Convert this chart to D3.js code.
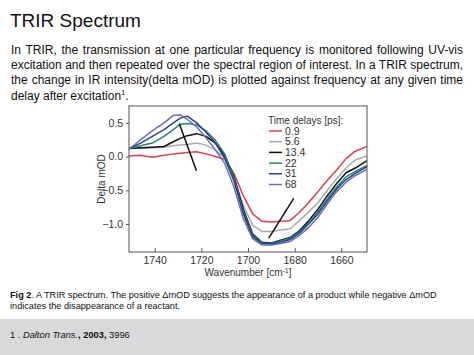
<!DOCTYPE html>
<html><head><meta charset="utf-8">
<script src="https://cdn.jsdelivr.net/npm/d3@7/dist/d3.min.js"></script>
<style>
html,body{margin:0;padding:0;background:#fff;}
svg{display:block;font-family:"Liberation Sans",Arial,sans-serif;}
</style></head>
<body>
<svg id="c" width="474" height="355"></svg>
<script>
// ---- data ----
const wavenumbers = [1751,1746,1741,1736,1732,1729,1726,1722,1718,1714,1710,1706,1702,1698,1694,1690,1686,1682,1678,1674,1670,1666,1662,1658,1654,1649];
const delays = ["0.9","5.6","13.4","22","31","68"];
const s09  = [0.01,0.02,-0.01,0.02,0.04,0.05,0.06,0.07,0.04,0.00,-0.04,-0.25,-0.58,-0.85,-0.96,-0.97,-0.96,-0.95,-0.83,-0.68,-0.52,-0.35,-0.20,-0.03,0.08,0.15];
const s56  = [0.13,0.12,0.13,0.14,0.16,0.17,0.18,0.20,0.17,0.10,-0.02,-0.32,-0.72,-1.02,-1.11,-1.11,-1.09,-1.07,-0.95,-0.82,-0.68,-0.50,-0.33,-0.17,-0.05,0.01];
const s134 = [0.12,0.13,0.14,0.15,0.22,0.27,0.31,0.34,0.30,0.20,0.02,-0.30,-0.78,-1.15,-1.27,-1.28,-1.24,-1.20,-1.10,-0.95,-0.78,-0.58,-0.40,-0.24,-0.17,-0.06];
const s22  = [0.12,0.16,0.20,0.30,0.40,0.48,0.49,0.47,0.38,0.24,0.04,-0.32,-0.82,-1.17,-1.28,-1.29,-1.25,-1.21,-1.12,-0.98,-0.82,-0.63,-0.45,-0.30,-0.22,-0.13];
const s31  = [0.12,0.20,0.30,0.40,0.50,0.57,0.60,0.50,0.36,0.20,-0.02,-0.36,-0.85,-1.19,-1.29,-1.30,-1.27,-1.23,-1.14,-1.00,-0.85,-0.66,-0.48,-0.34,-0.25,-0.15];
const s68  = [0.11,0.25,0.38,0.50,0.61,0.62,0.55,0.44,0.28,0.10,-0.10,-0.45,-0.92,-1.22,-1.31,-1.31,-1.29,-1.26,-1.17,-1.05,-0.90,-0.70,-0.52,-0.38,-0.28,-0.19];
const seriesValues = [s09,s56,s134,s22,s31,s68];
const xTicks = [1740,1720,1700,1680,1660];
const yTicks = [0.5,0.0,-0.5,-1.0];
// guide lines drawn on the figure: [wavenumber, mOD] pairs
const guide1 = [[1729.4,0.485],[1722.1,-0.21]];
const guide2 = [[1691.1,-1.21],[1680.4,-0.62]];

const colors = ["#d9414b","#aaaaaa","#111111","#1e8b6c","#2c3f8f","#6c6db9"];

const paraLines = [
 "In TRIR, the transmission at one particular frequency is monitored following UV-vis",
 "excitation and then repeated over the spectral region of interest. In a TRIR spectrum,",
 "the change in IR intensity(delta mOD) is plotted against frequency at any given time"
];

// ---- drawing ----
const svg = d3.select("#c");
const W=474,H=355;
svg.append("rect").attr("width",W).attr("height",H).attr("fill","#fff");

// title
svg.append("text").attr("x",10).attr("y",27).attr("font-size",19).attr("fill","#111").text("TRIR Spectrum");

// paragraph (justified)
const pBase=[53.5,69,84.3];
paraLines.forEach((ln,i)=>{
  const t = svg.append("text").attr("x",11).attr("y",pBase[i]).attr("font-size",12).attr("fill","#111").text(ln);
  const len = t.node().getComputedTextLength();
  const spaces = (ln.match(/ /g)||[]).length;
  const target = 452;
  if(spaces>0) t.attr("word-spacing",(target-len)/spaces);
});
const l4 = svg.append("text").attr("x",11).attr("y",99.5).attr("font-size",12).attr("fill","#111");
l4.append("tspan").text("delay after excitation");
l4.append("tspan").attr("font-size",8).attr("dy",-4.5).text("1");
l4.append("tspan").attr("dy",4.5).text(".");

// chart
const x = d3.scaleLinear().domain([1751,1649]).range([129,367]);
const y = d3.scaleLinear().domain([0.75,-1.415]).range([106,252]);

svg.append("clipPath").attr("id","clip").append("rect")
  .attr("x",129).attr("y",106).attr("width",238).attr("height",146);

const line = d3.line().x(d=>x(d[0])).y(d=>y(d[1]));
const g = svg.append("g").attr("clip-path","url(#clip)");
seriesValues.forEach((vals,i)=>{
  g.append("path").datum(wavenumbers.map((w,j)=>[w,vals[j]]))
   .attr("d",line).attr("fill","none").attr("stroke",colors[i])
   .attr("stroke-width",1.5).attr("stroke-linejoin","round");
});
[guide1,guide2].forEach(gd=>{
  g.append("path").datum(gd).attr("d",line).attr("fill","none").attr("stroke","#111").attr("stroke-width",1.5);
});

// axes
const xa = svg.append("g").attr("transform","translate(0,252)")
  .call(d3.axisBottom(x).tickValues(xTicks).tickSize(-4).tickPadding(5).tickFormat(d3.format("d")));
const ya = svg.append("g").attr("transform","translate(129,0)")
  .call(d3.axisLeft(y).tickValues(yTicks).tickSize(3).tickPadding(3).tickFormat(d3.format(".1f")));
[xa,ya].forEach(a=>{
  a.select(".domain").remove();
  a.selectAll("line").attr("stroke","#555");
  a.selectAll("text").attr("font-size",10.5).attr("fill","#333").attr("font-family","Liberation Sans, Arial, sans-serif");
});
svg.append("rect").attr("x",129).attr("y",106).attr("width",238).attr("height",146)
  .attr("fill","none").attr("stroke","#555").attr("stroke-width",1);

// axis titles
svg.append("text").attr("transform","translate(105,179) rotate(-90)").attr("text-anchor","middle")
  .attr("font-size",10).attr("fill","#333").text("Delta mOD");
const xt = svg.append("text").attr("x",248).attr("y",276).attr("text-anchor","middle").attr("font-size",10).attr("fill","#333");
xt.append("tspan").text("Wavenumber [cm");
xt.append("tspan").attr("font-size",7).attr("dy",-3.5).text("-1");
xt.append("tspan").attr("dy",3.5).text("]");

// legend
svg.append("text").attr("x",268).attr("y",124).attr("font-size",10).attr("fill","#333").text("Time delays [ps]:");
delays.forEach((d,i)=>{
  const yy = 131 + i*10.7;
  svg.append("line").attr("x1",269).attr("x2",282).attr("y1",yy).attr("y2",yy)
    .attr("stroke",colors[i]).attr("stroke-width",1.5);
  svg.append("text").attr("x",285).attr("y",yy+3.5).attr("font-size",10.5).attr("fill","#333").text(d);
});

// caption (sized to span the measured width)
const c1 = svg.append("text").attr("x",10).attr("y",298).attr("font-size",10).attr("fill","#111");
c1.append("tspan").attr("font-weight","bold").text("Fig 2");
c1.append("tspan").text(". A TRIR spectrum. The positive \u0394mOD suggests the appearance of a product while negative \u0394mOD");
const capLen = c1.node().getComputedTextLength();
const capSize = 10*427/capLen;
c1.attr("font-size",capSize);
svg.append("text").attr("x",10).attr("y",309).attr("font-size",capSize).attr("fill","#111").text("indicates the disappearance of a reactant.");

// footer band
svg.append("rect").attr("x",0).attr("y",319).attr("width",W).attr("height",H-319).attr("fill","#d9d9db");
const f = svg.append("text").attr("x",10).attr("y",338).attr("font-size",9.3).attr("fill","#111");
f.append("tspan").text("1 . ");
f.append("tspan").attr("font-style","italic").text("Dalton Trans.");
f.append("tspan").attr("font-weight","bold").text(", 2003,");
f.append("tspan").text(" 3996");
</script>
</body></html>
